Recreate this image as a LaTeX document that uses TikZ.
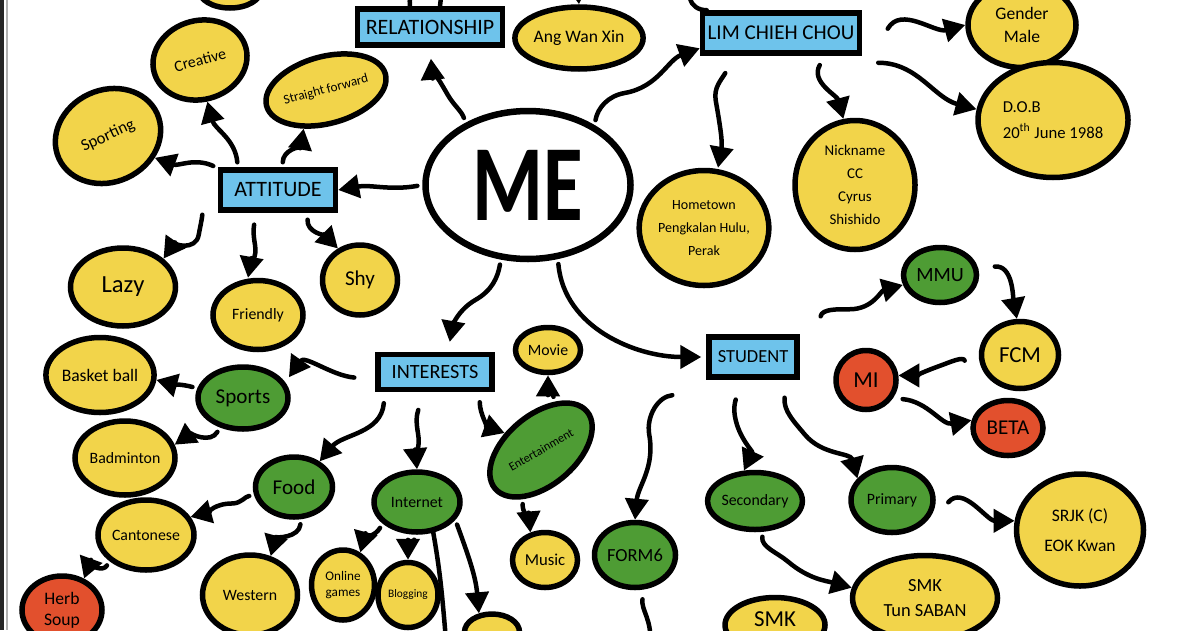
\documentclass[tikz,border=0pt]{standalone}
\usepackage{fontspec}
\usepackage{graphicx}
\setmainfont{Carlito}
\usetikzlibrary{shapes.geometric,arrows.meta}
\definecolor{yel}{HTML}{F2D44A}
\definecolor{grn}{HTML}{4E9C34}
\definecolor{rd}{HTML}{E2502D}
\definecolor{blu}{HTML}{6EC3EB}
\begin{document}
\begin{tikzpicture}[x=0.2mm,y=0.2mm,
 bub/.style={ellipse,draw=black,line width=1.1mm,inner sep=0pt,align=center},
 yb/.style={bub,fill=yel},
 gb/.style={bub,fill=grn},
 rb/.style={bub,fill=rd},
 sz/.style 2 args={minimum width=#1*0.2mm,minimum height=#2*0.2mm},
 fs/.style 2 args={font=\fontsize{#1}{#2}\selectfont},
 hbox/.style={rectangle,draw=black,line width=1.1mm,fill=blu,inner sep=0pt},
 arr/.style={line width=0.9mm,line cap=round,line join=round,-{Triangle[length=4.2mm,width=4.6mm]},shorten <=1mm},
 tail/.style={line width=0.9mm,line cap=round}
]
\useasboundingbox (0,0) rectangle (1200,-630);
\clip (0,0) rectangle (1200,-630);
\fill[white] (0,0) rectangle (1200,-630);
\fill[black!85] (0,0) rectangle (4,-630);
\draw[gray!60,line width=0.3mm] (7,0) -- (7,-630);

% centre
\node[bub,fill=white,sz={205}{148},line width=1.3mm] (me) at (528,-185)
  {\scalebox{1.05}[1.4]{\fontsize{44}{44}\selectfont\bfseries ME}};

% boxes
\node[hbox,sz={145}{36},fs={12.5}{14}] (rel) at (430,-27) {RELATIONSHIP};
\node[hbox,sz={157}{40},fs={12}{14}] (lim) at (781,-33) {LIM CHIEH CHOU};
\node[hbox,sz={115}{40},fs={12.5}{14}] (att) at (278,-190) {ATTITUDE};
\node[hbox,sz={114}{35},fs={11.5}{14}] (int) at (435,-372) {INTERESTS};
\node[hbox,sz={88}{40},fs={10.5}{14}] (stud) at (753,-357) {STUDENT};

% top row
\node[yb,sz={62}{36}] (tl) at (230,10) {};
\node[yb,sz={123}{62},fs={10}{12}] (ang) at (579,-38) {Ang Wan Xin};
\node[yb,sz={108}{85},fs={10}{13}] (gender) at (1022,-25) {Gender\\Male};
\node[yb,sz={150}{115},fs={9.5}{15},align=left] (dob) at (1053,-120) {D.O.B\\20\textsuperscript{th} June 1988};
\node[yb,sz={120}{129},fs={8.5}{13}] (nick) at (855,-185) {Nickname\\CC\\Cyrus\\Shishido};
\node[yb,sz={118}{115},fs={8}{13}] (home) at (704,-228) {Hometown\\Pengkalan Hulu,\\Perak};

% attitude branch
\node[yb,sz={95}{79},fs={9}{11},rotate=15] (creative) at (200,-60) {Creative};
\node[yb,sz={123}{67},fs={7.5}{9},rotate=15] (straight) at (326,-90) {Straight forward};
\node[yb,sz={108}{92},fs={9.5}{11},rotate=25] (sporting) at (108,-136) {Sporting};
\node[yb,sz={105}{78},fs={14}{16}] (lazy) at (123,-287) {Lazy};
\node[yb,sz={90}{69},fs={9}{11}] (friendly) at (258,-315) {Friendly};
\node[yb,sz={75}{70},fs={12}{14}] (shy) at (360,-280) {Shy};

% interests branch
\node[yb,sz={105}{75},fs={10}{12}] (basket) at (100,-375) {Basket ball};
\node[gb,sz={90}{62},fs={12}{14}] (sports) at (243,-398) {Sports};
\node[yb,sz={89}{74},fs={9}{11}] (badm) at (125,-458) {Badminton};
\node[yb,sz={87}{70},fs={9}{11}] (canton) at (146,-535) {Cantonese};
\node[rb,sz={80}{68},fs={10}{12}] (herb) at (62,-610) {Herb\\Soup};
\node[gb,sz={77}{60},fs={12}{14}] (food) at (294,-487) {Food};
\node[yb,sz={95}{80},fs={9}{11}] (western) at (250,-595) {Western};
\node[gb,sz={86}{60},fs={9}{11}] (internet) at (417,-502) {Internet};
\node[yb,sz={63}{70},fs={7.5}{9}] (online) at (343,-585) {Online\\games};
\node[yb,sz={60}{65},fs={6.5}{8}] (blog) at (408,-595) {Blogging};
\node[yb,sz={55}{36}] (bot) at (492,-632) {};
\node[yb,sz={65}{45},fs={9}{11}] (movie) at (548,-350) {Movie};
\node[gb,sz={120}{70},fs={7}{9},rotate=40] (ent) at (541,-450) {\rotatebox{-10}{Entertainment}};
\node[yb,sz={65}{55},fs={9.5}{11}] (music) at (545,-560) {Music};

% student branch
\node[gb,sz={81}{65},fs={10.5}{12}] (form6) at (635,-555) {FORM6};
\node[gb,sz={73}{55},fs={11.5}{13}] (mmu) at (940,-275) {MMU};
\node[yb,sz={77}{67},fs={13}{15}] (fcm) at (1020,-355) {FCM};
\node[rb,sz={60}{59},fs={13}{15}] (mi) at (866,-380) {MI};
\node[rb,sz={70}{55},fs={12}{14}] (beta) at (1008,-428) {BETA};
\node[gb,sz={88}{57},fs={9}{11}] (sec) at (755,-501) {Secondary};
\node[gb,sz={82}{65},fs={9}{11}] (prim) at (892,-500) {Primary};
\node[yb,sz={127}{112},fs={10}{17}] (srjk) at (1080,-530) {SRJK (C)\\EOK Kwan};
\node[yb,sz={145}{85},fs={10.5}{14}] (smkts) at (925,-598) {SMK\\Tun SABAN};
\node[yb,sz={100}{55},fs={13}{15}] (smk) at (775,-625) {\raisebox{2.4mm}{SMK}};

% off-frame ends
\coordinate (c1) at (410,12);
\coordinate (c2) at (440,12);
\coordinate (c3) at (560,14);
\coordinate (c4) at (690,2);
\coordinate (c5) at (446,-640);
\coordinate (c6) at (650,-640);

% connectors from ME
\draw[arr,shorten >=2.2mm] (me.135) to[out=110,in=-60] ++(-18,28) to[out=120,in=-85] (rel.south);
\draw[arr] (me.42) to[out=80,in=190] ++(30,32) to[out=10,in=200] ([yshift=1.5mm]lim.south west);
\draw[arr] (me.180) to[out=190,in=10] (att.east);
\draw[arr,shorten >=2mm] (me.250) to[out=-100,in=30] ++(-25,-40) to[out=210,in=80] ([xshift=2.6mm]int.north);
\draw[arr,shorten >=1mm] (me.292) to[out=-85,in=180] (stud.west);

% top fragments
\draw[tail] ([xshift=-4mm]rel.north) to[out=95,in=-90] (c1);
\draw[tail] ([xshift=2mm]rel.north) to[out=80,in=-90] (c2);
\draw[arr] (c3) to[out=-80,in=95] (ang.north);
\draw[tail] (c4) to[out=-80,in=180] ([xshift=1.4mm]lim.north west);

% LIM CHIEH CHOU
\draw[arr] ([xshift=5.6mm,yshift=-2.6mm]lim.south west) to[out=-120,in=100] ++(-12,-32) to[out=-80,in=80] ([xshift=2.8mm]home.north);
\draw[arr] ([xshift=-8mm,yshift=-1mm]lim.south east) to[out=-120,in=105] (nick.100);
\draw[arr] ([xshift=4.6mm]lim.east) to[out=60,in=195] (gender.west);
\draw[arr] ([xshift=2.2mm,yshift=-1.4mm]lim.south east) to[out=0,in=165] (dob.172);

% ATTITUDE
\draw[arr] (att.160) to[out=155,in=-20] (sporting.-50);
\draw[arr] ([xshift=4mm]att.north west) to[out=95,in=-75] (creative.-95);
\draw[arr] ([xshift=13mm]att.north west) to[out=90,in=-100] (straight.-135);
\draw[arr] ([xshift=-3mm,yshift=0.6mm]att.south west) to[out=-95,in=80] ++(-4,-25) to[out=-100,in=55] (lazy.35);
\draw[arr] ([xshift=-4.6mm,yshift=-1.4mm]att.south) to[out=-100,in=100] ++(0,-25) to[out=-80,in=80] ([xshift=-2mm]friendly.north);
\draw[arr] ([xshift=6mm,yshift=-0.4mm]att.south) to[out=-95,in=135] (shy.125);

% INTERESTS
\draw[arr] ([xshift=-3.2mm,yshift=-1.2mm]int.west) to[out=175,in=55] ([xshift=2.4mm,yshift=-0.6mm]sports.35);
\draw[arr] ([xshift=1.8mm,yshift=-1.2mm]int.south west) to[out=-95,in=50] (food.45);
\draw[arr] ([xshift=-3mm,yshift=-2.6mm]int.south) to[out=-110,in=100] ++(-2,-28) to[out=-80,in=95] (internet.north);
\draw[arr] ([xshift=-3mm,yshift=-1mm]int.south east) to[out=-90,in=160] (ent.115);
\draw[arr] (ent.35) to[out=95,in=-90] (movie.south);
\draw[arr] (ent.-150) to[out=-95,in=95] (music.118);

\draw[arr] (sports.168) to[out=165,in=-15] (basket.-5);
\draw[arr] (sports.232) to[out=-120,in=35] (badm.15);
\draw[arr] (food.192) to[out=185,in=0] ++(-22,-8) to[out=180,in=15] (canton.22);
\draw[arr] (food.-78) to[out=-95,in=75] (western.62);
\draw[arr] (canton.215) to[out=-115,in=70] (herb.55);
\draw[arr] (internet.212) to[out=-120,in=75] (online.62);
\draw[arr] (internet.-95) to[out=-90,in=90] (blog.north);
\draw[arr] (internet.-25) to[out=-70,in=95] (bot.125);
\draw[tail] (internet.-62) to[out=-80,in=95] (c5);

% STUDENT
\draw[arr] ([xshift=-5.8mm,yshift=-3mm]stud.south west) to[out=185,in=100] ++(-28,-40) to[out=-80,in=85] (form6.north);
\draw[arr] ([xshift=-3.2mm,yshift=-3mm]stud.south) to[out=-105,in=100] ++(-2,-22) to[out=-80,in=65] (sec.110);
\draw[arr] ([xshift=6.4mm,yshift=-2.6mm]stud.south) to[out=-95,in=130] ++(20,-42) to[out=-50,in=105] (prim.148);
\draw[arr] ([xshift=4mm,yshift=2.6mm]stud.north east) to[out=80,in=180] ++(30,12) to[out=0,in=195] (mmu.195);
\draw[arr] (sec.-75) to[out=-100,in=140] ++(25,-30) to[out=-40,in=165] (smkts.172);
\draw[arr] ([xshift=2mm]prim.-8) to[out=50,in=180] (srjk.172);
\draw[arr] ([xshift=2.4mm]mmu.12) to[out=5,in=100] (fcm.95);
\draw[arr] ([xshift=-3mm]fcm.195) to[out=100,in=20] ++(-25,0) to[out=200,in=0] (mi.8);
\draw[arr] ([xshift=1mm]mi.-35) to[out=-5,in=190] (beta.168);
\draw[tail,shorten <=2mm] (form6.-75) to[out=-100,in=85] (c6);
\end{tikzpicture}
\end{document}
